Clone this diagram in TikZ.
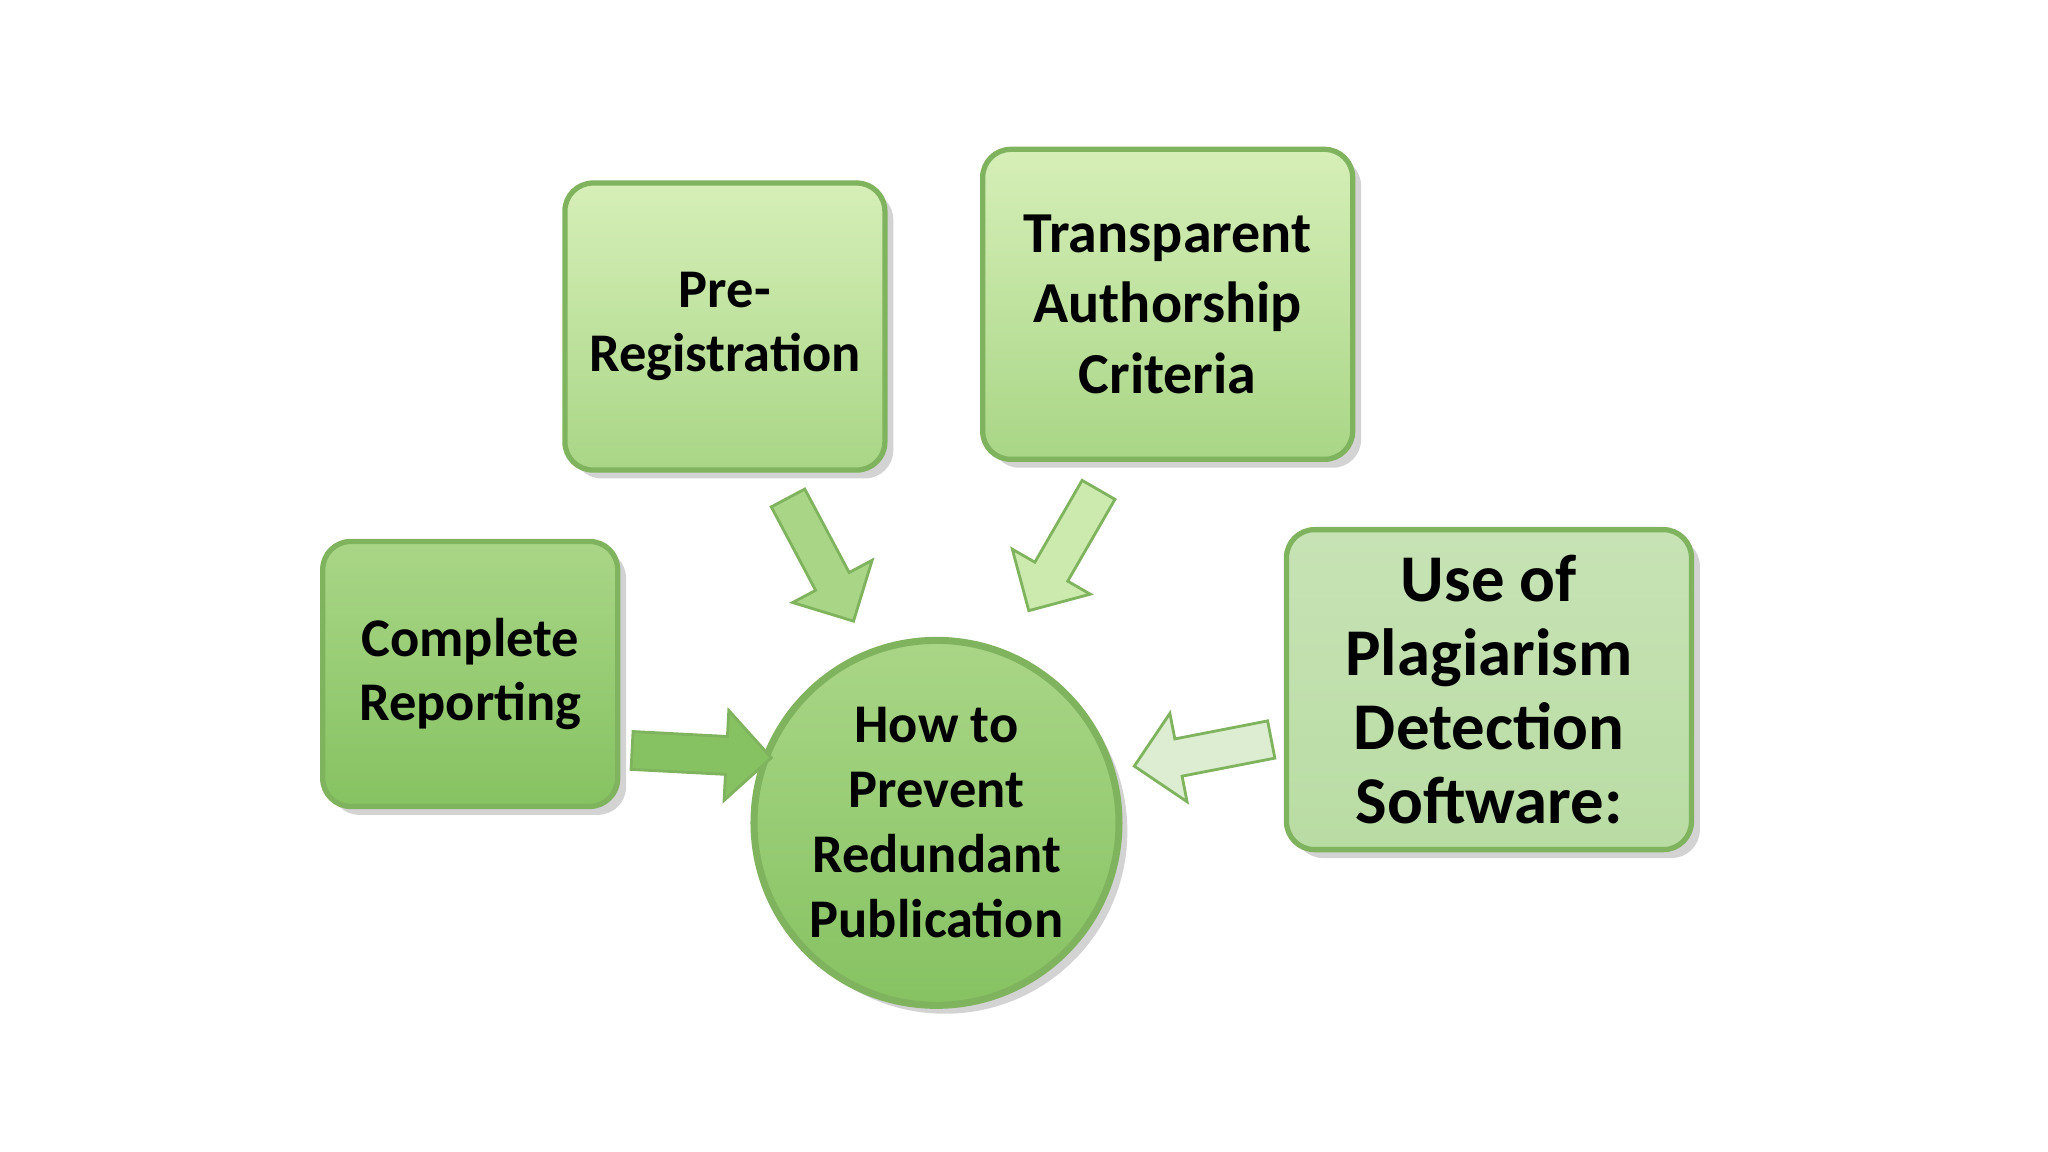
\documentclass[tikz,border=0pt]{standalone}
\usepackage{fontspec}
\setmainfont{Carlito}
\usetikzlibrary{shapes.arrows,shadows}
\definecolor{boxline}{HTML}{7FB35E}
\definecolor{lightg}{HTML}{D6EFB8}
\definecolor{midg}{HTML}{A9D686}
\definecolor{darkg}{HTML}{86C262}
\definecolor{greyg}{HTML}{B9DCA3}
\tikzset{
  box/.style={draw=boxline, line width=1.5pt, rounded corners=8pt, align=center,
    font=\bfseries, text=black, drop shadow={opacity=0.35}},
  blockarrow/.style={single arrow, draw=boxline, line width=0.8pt,
    minimum height=3.1cm*0.45, minimum width=0.9cm, single arrow head extend=0.18cm}
}
\begin{document}
\begin{tikzpicture}[x=0.01306cm, y=-0.01306cm]
  \useasboundingbox (0,0) rectangle (1568,882);
  % boxes
  \node[box, top color=lightg, bottom color=midg, minimum width=3.2cm, minimum height=2.87cm,
        font=\bfseries\fontsize{15.5}{18}\selectfont] (prereg) at (555,250) {Pre-\\Registration};
  \node[box, top color=lightg, bottom color=midg, minimum width=3.7cm, minimum height=3.1cm,
        font=\bfseries\fontsize{16.5}{20}\selectfont] (transp) at (894,233) {Transparent\\Authorship\\Criteria};
  \node[box, top color=midg, bottom color=darkg, minimum width=2.95cm, minimum height=2.65cm,
        font=\bfseries\fontsize{15.5}{18}\selectfont] (report) at (360,516) {Complete\\Reporting};
  \node[box, top color=greyg!80!white, bottom color=greyg, minimum width=4.05cm, minimum height=3.2cm,
        font=\bfseries\fontsize{19}{21}\selectfont] (plag) at (1140,528) {Use of\\Plagiarism\\Detection\\Software:};
  % centre
  \node[box, circle, inner sep=0pt, top color=midg, bottom color=darkg, line width=2pt, minimum size=3.65cm,
        font=\bfseries\fontsize{15.5}{18.5}\selectfont] (prevent) at (717,630) {How to\\Prevent\\Redundant\\Publication};
  % block arrows
  \node[blockarrow, fill=midg, rotate=-62] (a1) at (625,422) {};
  \node[blockarrow, fill=lightg!80!midg, rotate=-120] (a2) at (818,415) {};
  \node[blockarrow, fill=darkg, rotate=-3] (a3) at (530,577) {};
  \node[blockarrow, fill=greyg!50!white, rotate=191] (a4) at (928,575) {};
\end{tikzpicture}
\end{document}
